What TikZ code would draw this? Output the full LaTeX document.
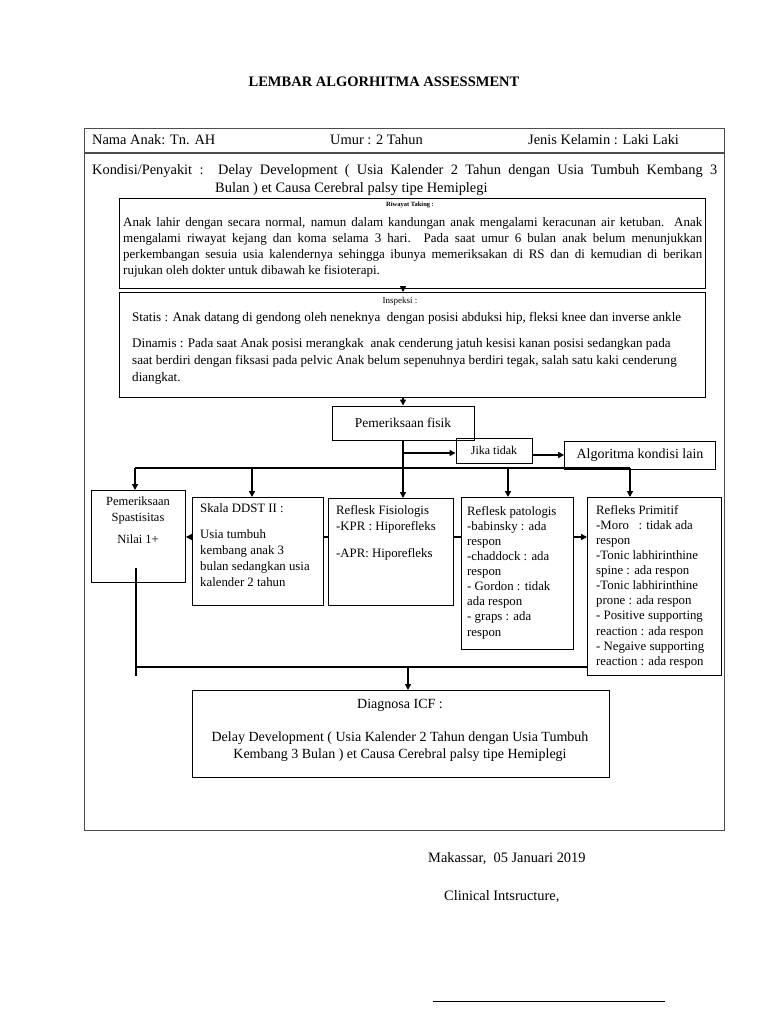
\documentclass[tikz,border=0pt]{standalone}
\usepackage{fontspec}
\setmainfont{Liberation Serif}
\usetikzlibrary{arrows.meta,calc}
\newcommand{\jl}[2]{\makebox[#1][s]{#2}}
\newcommand{\fsz}[2]{\fontsize{#1}{#2}\selectfont}
\begin{document}
\begin{tikzpicture}[x=1pt,y=-1pt,
 box/.style={draw, line width=0.9pt, inner sep=0pt, anchor=north west},
 cbox/.style={draw, line width=0.9pt, inner sep=0pt},
 txt/.style={inner sep=0pt, anchor=north west, align=left},
 arr/.style={line width=1.8pt, -{Triangle[length=6pt,width=6pt]}},
 con/.style={line width=1.8pt},
]
\useasboundingbox (0,0) rectangle (768,1024);
\fill[white] (0,0) rectangle (768,1024);

\node[font=\bfseries\fsz{14.5}{17}] (title) at (384,82) {LEMBAR ALGORHITMA ASSESSMENT};

% outer frame
\node[box, draw=black!70, line width=1.3pt, minimum width=640pt, minimum height=702pt] (frame) at (84,128) {};
\coordinate (hs) at (0,153);
\draw[draw=black!70, line width=1.1pt] (frame.west |- hs) -- (frame.east |- hs);

\node[anchor=base west, inner sep=0pt, font=\fsz{14.4}{17}] (nama) at (92,145) {Nama Anak: Tn. AH};
\node[anchor=base west, inner sep=0pt, font=\fsz{14.4}{17}] (umur) at (330,145) {Umur : 2 Tahun};
\node[anchor=base west, inner sep=0pt, font=\fsz{14.4}{17}] (jk) at (528,145) {Jenis Kelamin : Laki Laki};

\node[txt, font=\fsz{14.4}{18}] (kond) at (92,164) {\jl{625pt}{Kondisi/Penyakit :\ \ Delay Development ( Usia Kalender 2 Tahun dengan Usia Tumbuh Kembang 3}\\\hspace*{123pt}Bulan ) et Causa Cerebral palsy tipe Hemiplegi};

% riwayat
\node[box, minimum width=586pt, minimum height=90pt] (riw) at (119,198) {};
\node[font=\bfseries\fsz{6.5}{8}, inner sep=0pt] (riwt) at (410,205) {Riwayat Taking :};
\node[txt, font=\fsz{13}{16}] (riwtx) at (123,217) {\jl{579pt}{Anak lahir dengan secara normal, namun dalam kandungan anak mengalami keracunan air ketuban. Anak}\\\jl{579pt}{mengalami riwayat kejang dan koma selama 3 hari. Pada saat umur 6 bulan anak belum menunjukkan}\\\jl{579pt}{perkembangan sesuia usia kalendernya sehingga ibunya memeriksakan di RS dan di kemudian di berikan}\\rujukan oleh dokter untuk dibawah ke fisioterapi.};

% inspeksi
\node[box, minimum width=586pt, minimum height=105pt] (insp) at (119,292) {};
\node[font=\fsz{9}{10}, inner sep=0pt] (inspt) at (400,301) {Inspeksi :};
\node[txt, font=\fsz{13.1}{17}] (stat) at (132,312) {Statis : Anak datang di gendong oleh neneknya\ \ dengan posisi abduksi hip, fleksi knee dan inverse ankle};
\node[txt, font=\fsz{13.1}{17}] (din) at (132,338) {Dinamis : Pada saat Anak posisi merangkak\ \ anak cenderung jatuh kesisi kanan posisi sedangkan pada\\saat berdiri dengan fiksasi pada pelvic Anak belum sepenuhnya berdiri tegak, salah satu kaki cenderung\\diangkat.};

% pemeriksaan fisik
\node[cbox, minimum width=142pt, minimum height=34pt, font=\fsz{13.5}{16}] (fis) at (403,423) {Pemeriksaan fisik};
\node[cbox, minimum width=76pt, minimum height=25pt, font=\fsz{12}{14}] (jika) at (494,450.5) {Jika tidak};
\node[cbox, minimum width=151pt, minimum height=28pt, font=\fsz{14}{16}] (alg) at (640,455) {Algoritma kondisi lain};

% five boxes
\node[box, minimum width=94pt, minimum height=92pt] (spas) at (91,490) {};
\node[box, minimum width=131pt, minimum height=108pt] (skala) at (192,497) {};
\node[box, minimum width=125pt, minimum height=107pt] (fisio) at (328,498) {};
\node[box, minimum width=112pt, minimum height=152pt] (pato) at (461,497) {};
\node[box, minimum width=134pt, minimum height=178pt] (prim) at (587,497) {};

\node[inner sep=0pt, anchor=north, align=center, font=\fsz{12.5}{16}] (spastx) at (138,497) {Pemeriksaan\\Spastisitas\\[6pt]Nilai 1+};
\node[txt, font=\fsz{12.8}{16}] (skalatx) at (200,503) {Skala DDST II :\\[10pt]Usia tumbuh\\kembang anak 3\\bulan sedangkan usia\\kalender 2 tahun};
\node[txt, font=\fsz{12.8}{16}] (fisiotx) at (336,505) {Reflesk Fisiologis\\-KPR : Hiporefleks\\[11pt]-APR: Hiporefleks};
\node[txt, font=\fsz{12.8}{15.1}] (patotx) at (467,506) {Reflesk patologis\\-babinsky : ada\\respon\\-chaddock : ada\\respon\\- Gordon : tidak\\ada respon\\- graps : ada\\respon};
\node[txt, font=\fsz{12.8}{15.1}] (primtx) at (596,505) {Refleks Primitif\\-Moro\ \ \ : tidak ada\\respon\\-Tonic labhirinthine\\spine : ada respon\\-Tonic labhirinthine\\prone : ada respon\\- Positive supporting\\reaction : ada respon\\- Negaive supporting\\reaction : ada respon};

% diagnosa
\node[box, minimum width=417pt, minimum height=87pt] (diag) at (192,690) {};
\node[inner sep=0pt, font=\fsz{14}{17}] (diagt) at (400,705) {Diagnosa ICF :};
\node[inner sep=0pt, align=center, font=\fsz{14}{17}] (diagtx) at (400,746.5) {Delay Development ( Usia Kalender 2 Tahun dengan Usia Tumbuh\\Kembang 3 Bulan ) et Causa Cerebral palsy tipe Hemiplegi};

% connectors
\coordinate (sp) at (403,0);
\draw[arr] (riw.south -| sp) -- (insp.north -| sp);
\draw[arr] (insp.south -| sp) -- (fis.north -| sp);
\draw[arr] (fis.south -| sp) -- (fisio.north -| sp);
\coordinate (br) at (403,453);
\draw[arr] (br) -- (br -| jika.west);
\draw[arr] (jika.east |- alg.west) -- (alg.west);
\coordinate (d1) at (135,468);
\coordinate (d2) at (252,468);
\coordinate (d4) at (508,468);
\coordinate (d5) at (630,468);
\draw[con] (d1) -- (d5);
\draw[arr] (d1) -- (d1 |- spas.north);
\draw[arr] (d2) -- (d2 |- skala.north);
\draw[arr] (d4) -- (d4 |- pato.north);
\draw[arr] (d5) -- (d5 |- prim.north);
\coordinate (m) at (0,537);
\draw[arr] (skala.west |- m) -- (spas.east |- m);
\draw[con] (fisio.west |- m) -- (skala.east |- m);
\draw[con] (fisio.east |- m) -- (pato.west |- m);
\draw[arr] (pato.east |- m) -- (prim.west |- m);
\coordinate (c1) at (136,568);
\coordinate (c3) at (136,622);
\coordinate (c2) at (136,676);
\draw[line width=1.1pt] (c1) -- (c3);
\draw[con] (c3) -- (c2);
\coordinate (h) at (0,667);
\draw[con] (c1 |- h) -- (prim.west |- h);
\coordinate (dg) at (408,667);
\draw[arr] (dg) -- (diag.north -| dg);

% bottom
\node[anchor=base west, inner sep=0pt, font=\fsz{14.4}{17}] (kota) at (428,862) {Makassar,\ \ 05 Januari 2019};
\node[anchor=base west, inner sep=0pt, font=\fsz{14.4}{17}] (ci) at (444,900) {Clinical Intsructure,};
\coordinate (s1) at (433,1001);
\coordinate (s2) at (665,1001);
\draw[line width=0.8pt] (s1) -- (s2);
\end{tikzpicture}
\end{document}
